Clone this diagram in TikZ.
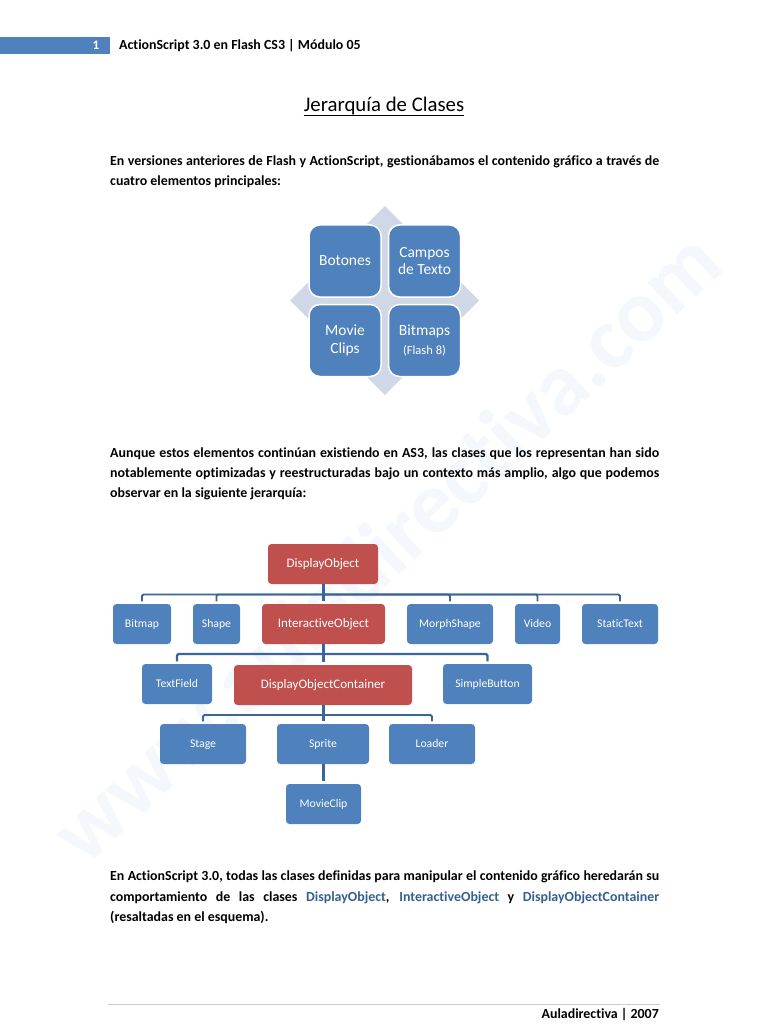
\documentclass[tikz,border=0pt]{standalone}
\usepackage{fontspec}
\setmainfont[Ligatures=NoCommon]{Carlito}
\usetikzlibrary{calc}
\definecolor{boxblue}{HTML}{4F81BD}
\definecolor{boxred}{HTML}{C0504D}
\definecolor{linkblue}{HTML}{3A659B}
\definecolor{paleblue}{HTML}{D0D8E8}
\definecolor{mark}{HTML}{F4F7FB}
\definecolor{kw}{HTML}{365F91}
\newcommand{\fs}[1]{\fontsize{#1}{#1}\selectfont}
\newcommand{\jline}[1]{\makebox[549pt][s]{#1}}
\tikzset{
  x=1pt,y=-1pt,
  body/.style={anchor=base west,inner sep=0pt,font=\fs{13.9}\bfseries,text=black},
  bigbox/.style={rounded corners=11pt,fill=boxblue,draw=white,line width=1.5pt,text=white,minimum width=72pt,minimum height=72pt,align=center,inner sep=0pt,font=\fs{15.5}},
  treebox/.style={rounded corners=3.5pt,draw=none,text=white,minimum height=40pt,inner sep=0pt,text height=8.5pt,text depth=2.5pt,font=\fs{11.7}},
  bluebox/.style={treebox,fill=boxblue},
  redbox/.style={treebox,fill=boxred,text height=10pt,text depth=2.5pt,font=\fs{13}},
  branch/.style={draw=linkblue,line width=1.8pt,rounded corners=1.5pt},
  trunk/.style={draw=linkblue,line width=3pt},
  petal/.style={fill=paleblue,draw=none},
}
\begin{document}
\begin{tikzpicture}
\useasboundingbox (0,0) rectangle (768,1024);
\fill[white] (0,0) rectangle (768,1024);
% watermark
\node[rotate=43,text=mark,inner sep=0pt,font=\fs{89}\bfseries] (wm) at (385,546) {www.auladirectiva.com};
% header
\fill[boxblue] (0,37) rectangle (110,54);
\node[inner sep=0pt,text=white,font=\fs{13}\bfseries] (pg) at (96,45.5) {1};
\node[anchor=base west,inner sep=0pt,font=\fs{13.9}\bfseries] (hd) at (119,50) {ActionScript 3.0 en Flash CS3 | Módulo 05};
\node[anchor=base,inner sep=0pt,font=\fs{20.8}] (title) at (384,112) {Jerarquía de Clases};
\draw[line width=1.1pt] (title.base west) ++(0,3.2) -- ++(160,0);
% paragraph 1
\node[body] (p1a) at (110,166) {\jline{En versiones anteriores de Flash y ActionScript, gestionábamos el contenido gráfico a través de}};
\node[body] (p1b) at (110,186) {cuatro elementos principales:};
% cross
\fill[petal] (385,206) -- (479,300.5) -- (385,395) -- (290,300.5) -- cycle;
\node[bigbox] (bot) at (345,261) {Botones};
\node[bigbox] (cam) at (424.5,261) {Campos\\[2pt]de Texto};
\node[bigbox] (mov) at (345,340.5) {Movie\\[2pt]Clips};
\node[bigbox] (bmp) at (424.5,340.5) {Bitmaps\\[3pt]{\fs{12.5}(Flash 8)}};
% paragraph 2
\node[body] (p2a) at (110,457) {\jline{Aunque estos elementos continúan existiendo en AS3, las clases que los representan han sido}};
\node[body] (p2b) at (110,477) {\jline{notablemente optimizadas y reestructuradas bajo un contexto más amplio, algo que podemos}};
\node[body] (p2c) at (110,497) {observar en la siguiente jerarquía:};
% tree nodes
\node[redbox,minimum width=110pt] (dobj) at (323,564) {DisplayObject};
\node[bluebox,minimum width=58pt] (bitmap) at (142,624) {Bitmap};
\node[bluebox,minimum width=47pt] (shape) at (216.5,624) {Shape};
\node[redbox,minimum width=123pt] (iobj) at (323.5,624) {InteractiveObject};
\node[bluebox,minimum width=86pt] (morph) at (450,624) {MorphShape};
\node[bluebox,minimum width=45pt] (video) at (537.5,624) {Video};
\node[bluebox,minimum width=76pt] (stext) at (620,624) {StaticText};
\node[bluebox,minimum width=70pt] (tfield) at (177,684) {TextField};
\node[redbox,minimum width=178pt] (doc) at (323,685) {DisplayObjectContainer};
\node[bluebox,minimum width=89pt] (sbtn) at (487.5,684) {SimpleButton};
\node[bluebox,minimum width=86pt] (stage) at (203,744) {Stage};
\node[bluebox,minimum width=92pt] (sprite) at (323,744) {Sprite};
\node[bluebox,minimum width=86pt] (loader) at (432,744) {Loader};
\node[bluebox,minimum width=75pt] (mclip) at (323.5,804) {MovieClip};
% tree connectors
\coordinate (busA) at (323,594.5);
\coordinate (busB) at (323,654);
\coordinate (busC) at (323,715);
\foreach \n in {bitmap,shape,morph,video,stext}
  \draw[branch,shorten <=2.5pt] (\n.north) |- (busA);
\foreach \n in {tfield,sbtn}
  \draw[branch,shorten <=2.5pt,line width=2.2pt] (\n.north) |- (busB);
\foreach \n in {stage,loader}
  \draw[branch,shorten <=2.5pt] (\n.north) |- (busC);
\draw[trunk,shorten >=3pt] (dobj.south) -- (dobj.south |- iobj.north);
\draw[trunk,shorten >=3pt] (iobj.south) -- (iobj.south |- doc.north);
\draw[trunk,shorten >=3pt] (doc.south) -- (doc.south |- sprite.north);
\draw[trunk,shorten >=3pt] (sprite.south) -- (sprite.south |- mclip.north);
% paragraph 3
\node[body] (p3a) at (110,880) {\jline{En ActionScript 3.0, todas las clases definidas para manipular el contenido gráfico heredarán su}};
\node[body] (p3b) at (110,901) {\jline{comportamiento de las clases {\color{kw}DisplayObject}, {\color{kw}InteractiveObject} y {\color{kw}DisplayObjectContainer}}};
\node[body] (p3c) at (110,921) {(resaltadas en el esquema).};
% footer
\coordinate (fl) at (108,1004);
\coordinate (fr) at (660,1004);
\draw[draw=black!20,line width=0.8pt] (fl) -- (fr);
\node[anchor=base east,inner sep=0pt,font=\fs{13.9}\bfseries] (ft) at (659,1018) {Auladirectiva | 2007};
\end{tikzpicture}
\end{document}
